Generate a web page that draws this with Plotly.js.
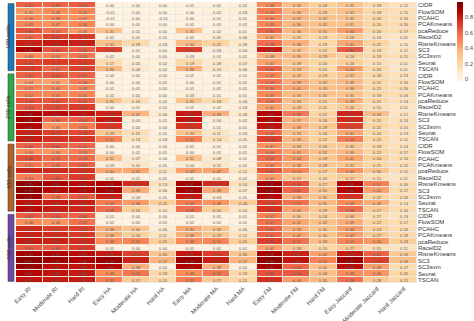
<!DOCTYPE html>
<html><head><meta charset="utf-8">
<script src="https://cdn.plot.ly/plotly-3.0.1.min.js"></script>
<style>html,body{margin:0;padding:0;background:#fff}#chart{width:474px;height:321px}</style>
</head><body><div id="chart"></div>
<script>
const metrics = ['Easy RI','Moderate RI','Hard RI','Easy HA','Moderate HA','Hard HA','Easy MA','Moderate MA','Hard MA','Easy FM','Moderate FM','Hard FM','Easy Jaccard','Moderate Jaccard','Hard Jaccard'];
const methods = ['CIDR','FlowSOM','PCAHC','PCAKmeans','pcaReduce','RaceID2','RtsneKmeans','SC3','SC3svm','Seurat','TSCAN'];
const groupNames = ['100 cells','200 cells','400 cells','800 cells'];
const groupColors = ['#1f78b8','#2fa84a','#b0622a','#6e48a3'];

const cells100 = [
[0.62,0.61,0.63,0.00,0.00,0.00,0.01,0.01,0.02,0.48,0.34,0.24,0.31,0.19,0.12],
[0.45,0.48,0.50,-0.01,0.00,0.00,0.00,0.02,0.03,0.53,0.36,0.28,0.32,0.19,0.15],
[0.48,0.48,0.47,-0.01,0.00,-0.01,0.00,0.01,0.01,0.50,0.37,0.32,0.32,0.20,0.16],
[0.49,0.47,0.50,0.00,0.00,0.00,0.01,0.01,0.02,0.49,0.36,0.32,0.31,0.20,0.16],
[0.66,0.56,0.45,0.31,0.01,0.00,0.32,0.02,0.01,0.61,0.36,0.35,0.44,0.20,0.17],
[0.60,0.69,0.71,0.01,0.02,0.01,0.02,0.05,0.06,0.41,0.25,0.19,0.26,0.14,0.11],
[0.78,0.80,0.79,0.32,0.18,0.03,0.34,0.22,0.08,0.58,0.38,0.19,0.40,0.22,0.10],
[0.88,0.66,0.64,0.70,0.01,0.00,0.71,0.03,0.04,0.80,0.32,0.22,0.64,0.18,0.12],
[0.48,0.50,0.55,0.02,0.00,0.00,0.03,0.01,0.02,0.38,0.35,0.29,0.24,0.19,0.15],
[0.69,0.71,0.71,0.17,0.05,0.02,0.19,0.08,0.07,0.42,0.29,0.20,0.24,0.15,0.11],
[0.71,0.61,0.70,0.36,0.08,0.02,0.38,0.10,0.06,0.62,0.34,0.20,0.44,0.20,0.11]
];
const cells200 = [
[0.62,0.64,0.62,0.00,0.00,0.00,0.01,0.01,0.01,0.49,0.32,0.23,0.32,0.18,0.13],
[0.44,0.42,0.53,0.00,0.00,0.01,0.00,0.01,0.02,0.56,0.39,0.32,0.36,0.21,0.16],
[0.51,0.49,0.49,0.01,0.01,0.00,0.01,0.02,0.01,0.54,0.41,0.33,0.36,0.21,0.16],
[0.52,0.51,0.51,0.02,0.00,0.00,0.03,0.01,0.01,0.49,0.35,0.31,0.31,0.19,0.16],
[0.66,0.65,0.63,0.31,0.16,0.02,0.31,0.18,0.04,0.56,0.34,0.25,0.39,0.21,0.14],
[0.63,0.67,0.71,0.00,0.01,0.01,0.01,0.02,0.03,0.42,0.28,0.20,0.26,0.15,0.11],
[0.88,0.84,0.82,0.78,0.37,0.06,0.80,0.39,0.08,0.86,0.55,0.22,0.77,0.34,0.12],
[0.91,0.60,0.63,0.80,0.03,0.01,0.82,0.04,0.02,0.86,0.37,0.26,0.76,0.21,0.14],
[0.86,0.46,0.54,0.72,0.00,0.00,0.74,0.01,0.01,0.82,0.38,0.29,0.70,0.21,0.15],
[0.78,0.70,0.68,0.29,0.15,0.01,0.30,0.11,0.03,0.59,0.33,0.24,0.41,0.20,0.13],
[0.80,0.74,0.73,0.51,0.13,0.03,0.51,0.14,0.05,0.70,0.36,0.22,0.53,0.21,0.12]
];
const cells400 = [
[0.62,0.64,0.61,0.00,0.00,0.00,0.01,0.01,0.01,0.47,0.34,0.26,0.30,0.19,0.14],
[0.48,0.46,0.53,0.00,0.01,0.01,0.00,0.01,0.01,0.54,0.41,0.32,0.36,0.22,0.17],
[0.66,0.59,0.59,0.31,0.07,0.00,0.31,0.08,0.01,0.59,0.44,0.29,0.41,0.24,0.16],
[0.55,0.56,0.62,0.03,0.10,0.01,0.04,0.11,0.02,0.49,0.38,0.28,0.32,0.21,0.15],
[0.78,0.76,0.74,0.40,0.41,0.11,0.43,0.42,0.12,0.65,0.50,0.27,0.46,0.30,0.15],
[0.53,0.64,0.71,0.01,0.01,0.01,0.01,0.01,0.02,0.43,0.27,0.20,0.27,0.15,0.11],
[0.95,0.90,0.85,0.88,0.76,0.13,0.90,0.76,0.14,0.92,0.66,0.27,0.86,0.52,0.16],
[0.96,0.85,0.86,0.90,0.39,0.06,0.91,0.39,0.07,0.92,0.60,0.31,0.86,0.42,0.17],
[0.92,0.58,0.64,0.78,0.03,0.01,0.80,0.04,0.01,0.85,0.39,0.30,0.74,0.22,0.16],
[0.82,0.80,0.79,0.53,0.44,0.25,0.53,0.46,0.26,0.70,0.57,0.35,0.48,0.39,0.14],
[0.84,0.80,0.77,0.58,0.24,0.10,0.58,0.25,0.10,0.74,0.42,0.29,0.58,0.27,0.16]
];
const cells800 = [
[0.63,0.64,0.62,0.01,0.00,0.00,0.01,0.01,0.01,0.52,0.30,0.24,0.34,0.17,0.13],
[0.48,0.46,0.57,0.01,0.00,0.01,0.01,0.01,0.01,0.57,0.41,0.32,0.39,0.22,0.17],
[0.76,0.71,0.70,0.38,0.30,0.06,0.40,0.32,0.06,0.62,0.39,0.30,0.44,0.24,0.16],
[0.78,0.75,0.72,0.38,0.24,0.11,0.38,0.29,0.12,0.61,0.42,0.30,0.43,0.27,0.18],
[0.80,0.78,0.76,0.49,0.51,0.25,0.49,0.51,0.25,0.70,0.57,0.33,0.51,0.45,0.24],
[0.63,0.63,0.71,0.01,0.00,0.00,0.01,0.01,0.01,0.42,0.28,0.20,0.27,0.15,0.11],
[0.90,0.86,0.84,0.80,0.70,0.30,0.81,0.71,0.30,0.88,0.78,0.42,0.80,0.62,0.26],
[0.97,0.92,0.88,0.94,0.78,0.37,0.94,0.79,0.37,0.96,0.82,0.51,0.92,0.70,0.33],
[0.93,0.83,0.82,0.86,0.38,0.01,0.87,0.38,0.01,0.90,0.60,0.32,0.84,0.43,0.17],
[0.86,0.82,0.80,0.48,0.55,0.19,0.48,0.55,0.19,0.66,0.64,0.34,0.48,0.46,0.20],
[0.82,0.80,0.80,0.53,0.27,0.20,0.53,0.27,0.21,0.74,0.44,0.35,0.58,0.28,0.21]
];

const groups = [cells100, cells200, cells400, cells800];
const z = [].concat(...groups);
const rowIdx = z.map((_, i) => i);
const rowText = [].concat(...groups.map(() => methods));

const font = 'Liberation Sans, Arial, sans-serif';
const colorscale = [
  [0,'#fff6ea'],[0.125,'#fee8c8'],[0.25,'#fdd49e'],[0.375,'#fdbb84'],
  [0.5,'#fc8d59'],[0.625,'#ef6548'],[0.75,'#d7301f'],[0.875,'#b30000'],[1,'#7f0000']
];

const trace = {
  type: 'heatmap',
  x: metrics,
  y: rowIdx,
  z: z,
  zmin: -0.04, zmax: 1,
  colorscale: colorscale,
  xgap: 1, ygap: 1,
  texttemplate: '%{z:.2f}',
  textfont: {size: 4.3, color: '#5a5a5a', family: font},
  hoverinfo: 'skip',
  colorbar: {
    x: 1.0998, xanchor: 'left', xpad: 0,
    y: 1, yanchor: 'top', ypad: 0,
    len: 80, lenmode: 'pixels',
    thickness: 6, thicknessmode: 'pixels',
    outlinewidth: 0, ticks: '',
    tickvals: [0,0.2,0.4,0.6,0.8,1],
    ticktext: ['0','0.2','0.4','0.6','0.8','1'],
    tickfont: {size: 6, color: '#4d4d4d', family: font}
  }
};

const shapes = [];
const annotations = [];
let start = 0;
groups.forEach((g, gi) => {
  const end = start + g.length - 1;
  shapes.push({
    type: 'rect', xref: 'paper', yref: 'y',
    x0: -0.02, x1: -0.005,
    y0: start - 0.5 + 0.25, y1: end + 0.5 - 0.25,
    fillcolor: groupColors[gi], line: {color: '#333333', width: 0.5}
  });
  annotations.push({
    xref: 'paper', yref: 'y', x: -0.031, y: (start + end) / 2,
    text: groupNames[gi], textangle: -90, showarrow: false,
    font: {size: 6, color: '#333333', family: font}
  });
  start = end + 1;
});

const layout = {
  width: 474, height: 321,
  margin: {l: 16, r: 57, t: 2, b: 38, pad: 0},
  paper_bgcolor: '#ffffff', plot_bgcolor: '#ece8e4',
  font: {family: font, size: 6, color: '#333333'},
  xaxis: {type: 'category', tickangle: -45, tickfont: {size: 6, color: '#4d4d4d'},
    showgrid: false, zeroline: false, ticks: '', automargin: false, showline: false},
  yaxis: {tickvals: rowIdx, ticktext: rowText, side: 'right', range: [z.length - 0.5, -0.5],
    tickfont: {size: 6, color: '#333333'}, showgrid: false, zeroline: false, ticks: '',
    automargin: false, showline: false},
  shapes: shapes,
  annotations: annotations
};

Plotly.newPlot('chart', [trace], layout, {displayModeBar: false, staticPlot: true});
</script></body></html>
